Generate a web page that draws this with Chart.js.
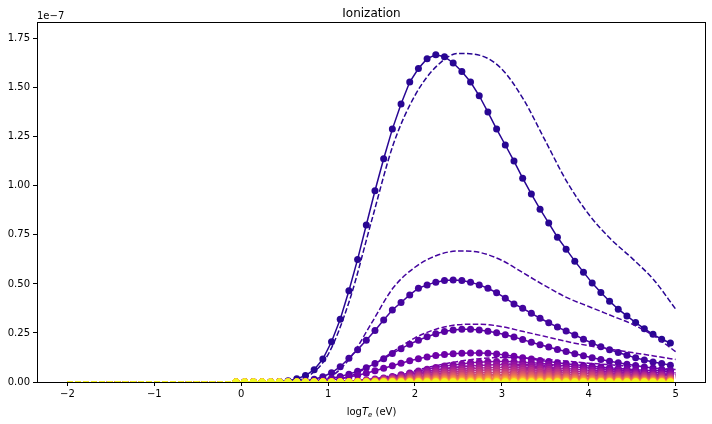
<!DOCTYPE html>
<html>
<head>
<meta charset="utf-8">
<script src="https://cdn.jsdelivr.net/npm/chart.js@4"></script>
<style>
  html, body { margin: 0; padding: 0; background: #fff; }
  canvas { display: block; }
</style>
</head>
<body>
<canvas id="chart" width="712" height="424"></canvas>
<script>
// Ionization rate coefficients, values in units of 1e-7

// log Te grid of the model (points with markers)
const XS = [-0.06, 0.04, 0.14, 0.24, 0.34, 0.44, 0.54, 0.64, 0.74, 0.84, 0.94,
  1.04, 1.14, 1.24, 1.34, 1.44, 1.54, 1.64, 1.74, 1.84, 1.94,
  2.04, 2.14, 2.24, 2.34, 2.44, 2.54, 2.64, 2.74, 2.84, 2.94,
  3.04, 3.14, 3.24, 3.34, 3.44, 3.54, 3.64, 3.74, 3.84, 3.94,
  4.04, 4.14, 4.24, 4.34, 4.44, 4.54, 4.64, 4.74, 4.84, 4.94];

// log Te grid of the reference curves (dashed)
const DX = [-2, -1, 0, 0.5, 0.75, 1, 1.25, 1.5, 1.75, 2, 2.25, 2.5, 2.75, 3,
  3.25, 3.5, 3.75, 4, 4.25, 4.5, 4.75, 5];

const X_TICKS = [-2, -1, 0, 1, 2, 3, 4, 5];
const Y_TICKS = [0, 0.25, 0.5, 0.75, 1, 1.25, 1.5, 1.75];

// solid lines with markers, one per charge state
const S0 = [0, 0, 0, 0, 0.001, 0.002, 0.006, 0.016, 0.033, 0.063, 0.117,
  0.205, 0.32, 0.465, 0.625, 0.8, 0.975, 1.138, 1.289, 1.417, 1.529,
  1.598, 1.648, 1.668, 1.658, 1.626, 1.583, 1.529, 1.459, 1.376, 1.289,
  1.208, 1.126, 1.039, 0.958, 0.881, 0.81, 0.738, 0.677, 0.616, 0.56,
  0.504, 0.456, 0.412, 0.371, 0.337, 0.303, 0.272, 0.243, 0.218, 0.199];
const S1 = [0, 0, 0, 0, 0, 0, 0.001, 0.003, 0.007, 0.014, 0.027,
  0.047, 0.078, 0.121, 0.165, 0.213, 0.263, 0.316, 0.367, 0.405, 0.444,
  0.478, 0.495, 0.509, 0.517, 0.52, 0.517, 0.509, 0.495, 0.478, 0.455,
  0.427, 0.398, 0.376, 0.35, 0.325, 0.302, 0.28, 0.26, 0.24, 0.218,
  0.198, 0.18, 0.165, 0.15, 0.136, 0.123, 0.112, 0.102, 0.094, 0.086];
const S2 = [0, 0, 0, 0, 0, 0, 0.001, 0.002, 0.004, 0.007, 0.012,
  0.019, 0.028, 0.04, 0.055, 0.073, 0.094, 0.118, 0.145, 0.17, 0.193,
  0.213, 0.231, 0.246, 0.257, 0.265, 0.269, 0.269, 0.265, 0.259, 0.251,
  0.241, 0.229, 0.216, 0.203, 0.19, 0.178, 0.166, 0.155, 0.144, 0.134,
  0.124, 0.115, 0.106, 0.098, 0.091, 0.084, 0.077, 0.071, 0.065, 0.06];
const S3 = [0, 0, 0, 0, 0, 0, 0, 0.001, 0.002, 0.004, 0.007,
  0.011, 0.017, 0.025, 0.034, 0.045, 0.057, 0.07, 0.083, 0.096, 0.108,
  0.119, 0.128, 0.135, 0.14, 0.144, 0.146, 0.148, 0.148, 0.146, 0.143,
  0.138, 0.131, 0.124, 0.117, 0.11, 0.104, 0.098, 0.093, 0.088, 0.084,
  0.08, 0.076, 0.072, 0.069, 0.066, 0.063, 0.06, 0.058, 0.056, 0.054];
const S4 = [0, 0, 0, 0, 0, 0, 0, 0, 0, 0, 0.001,
  0.001, 0.002, 0.004, 0.006, 0.01, 0.015, 0.021, 0.028, 0.037, 0.046,
  0.056, 0.065, 0.074, 0.081, 0.087, 0.092, 0.098, 0.101, 0.103, 0.105,
  0.105, 0.103, 0.101, 0.098, 0.095, 0.09, 0.086, 0.082, 0.078, 0.074,
  0.07, 0.066, 0.063, 0.06, 0.057, 0.054, 0.05, 0.048, 0.046, 0.044];
const S5 = [0, 0, 0, 0, 0, 0, 0, 0, 0, 0, 0.001,
  0.001, 0.002, 0.003, 0.005, 0.008, 0.012, 0.018, 0.024, 0.031, 0.039,
  0.047, 0.055, 0.062, 0.068, 0.073, 0.077, 0.082, 0.084, 0.087, 0.088,
  0.088, 0.087, 0.084, 0.082, 0.079, 0.076, 0.072, 0.069, 0.065, 0.062,
  0.059, 0.055, 0.053, 0.05, 0.048, 0.045, 0.042, 0.04, 0.039, 0.037];
const S6 = [0, 0, 0, 0, 0, 0, 0, 0, 0, 0, 0.001,
  0.001, 0.001, 0.003, 0.004, 0.007, 0.01, 0.015, 0.02, 0.026, 0.033,
  0.039, 0.046, 0.052, 0.057, 0.061, 0.065, 0.069, 0.071, 0.073, 0.074,
  0.074, 0.073, 0.071, 0.069, 0.067, 0.064, 0.061, 0.058, 0.055, 0.052,
  0.05, 0.047, 0.044, 0.042, 0.04, 0.038, 0.036, 0.034, 0.033, 0.031];
const S7 = [0, 0, 0, 0, 0, 0, 0, 0, 0, 0, 0,
  0.001, 0.001, 0.002, 0.004, 0.006, 0.009, 0.012, 0.017, 0.022, 0.027,
  0.033, 0.038, 0.043, 0.048, 0.051, 0.055, 0.058, 0.06, 0.061, 0.062,
  0.062, 0.061, 0.06, 0.058, 0.056, 0.053, 0.051, 0.048, 0.046, 0.043,
  0.042, 0.039, 0.037, 0.035, 0.033, 0.032, 0.03, 0.029, 0.027, 0.026];
const S8 = [0, 0, 0, 0, 0, 0, 0, 0, 0, 0, 0,
  0.001, 0.001, 0.002, 0.003, 0.005, 0.007, 0.01, 0.014, 0.018, 0.022,
  0.027, 0.031, 0.035, 0.039, 0.042, 0.044, 0.047, 0.048, 0.049, 0.05,
  0.05, 0.049, 0.048, 0.047, 0.045, 0.043, 0.041, 0.039, 0.037, 0.035,
  0.034, 0.032, 0.03, 0.029, 0.027, 0.026, 0.024, 0.023, 0.022, 0.021];
const S9 = [0, 0, 0, 0, 0, 0, 0, 0, 0, 0, 0,
  0, 0.001, 0.001, 0.002, 0.004, 0.006, 0.008, 0.011, 0.014, 0.018,
  0.021, 0.025, 0.028, 0.031, 0.033, 0.035, 0.037, 0.038, 0.039, 0.04,
  0.04, 0.039, 0.038, 0.037, 0.036, 0.034, 0.033, 0.031, 0.03, 0.028,
  0.027, 0.025, 0.024, 0.023, 0.022, 0.02, 0.019, 0.018, 0.018, 0.017];
const S10 = [0, 0, 0, 0, 0, 0, 0, 0, 0, 0, 0,
  0, 0, 0.001, 0.002, 0.003, 0.004, 0.006, 0.009, 0.011, 0.014,
  0.017, 0.02, 0.022, 0.025, 0.027, 0.028, 0.03, 0.031, 0.032, 0.032,
  0.032, 0.032, 0.031, 0.03, 0.029, 0.028, 0.026, 0.025, 0.024, 0.022,
  0.021, 0.02, 0.019, 0.018, 0.017, 0.016, 0.015, 0.015, 0.014, 0.013];
const S11 = [0, 0, 0, 0, 0, 0, 0, 0, 0, 0, 0,
  0, 0, 0.001, 0.002, 0.002, 0.004, 0.005, 0.007, 0.009, 0.011,
  0.013, 0.016, 0.018, 0.019, 0.021, 0.022, 0.023, 0.024, 0.025, 0.025,
  0.025, 0.025, 0.024, 0.023, 0.023, 0.022, 0.021, 0.02, 0.019, 0.018,
  0.017, 0.016, 0.015, 0.014, 0.014, 0.013, 0.012, 0.012, 0.011, 0.011];
const S12 = [0, 0, 0, 0, 0, 0, 0, 0, 0, 0, 0,
  0, 0, 0, 0.001, 0.002, 0.003, 0.004, 0.005, 0.007, 0.008,
  0.01, 0.012, 0.013, 0.015, 0.016, 0.017, 0.018, 0.018, 0.019, 0.019,
  0.019, 0.019, 0.018, 0.018, 0.017, 0.016, 0.016, 0.015, 0.014, 0.013,
  0.013, 0.012, 0.011, 0.011, 0.01, 0.01, 0.009, 0.009, 0.008, 0.008];
const S13 = [0, 0, 0, 0, 0, 0, 0, 0, 0, 0, 0,
  0, 0, 0, 0, 0.001, 0.002, 0.003, 0.004, 0.005, 0.006,
  0.007, 0.009, 0.01, 0.011, 0.012, 0.012, 0.013, 0.013, 0.014, 0.014,
  0.014, 0.014, 0.013, 0.013, 0.013, 0.012, 0.011, 0.011, 0.01, 0.01,
  0.009, 0.009, 0.008, 0.008, 0.008, 0.007, 0.007, 0.006, 0.006, 0.006];
const S14 = [0, 0, 0, 0, 0, 0, 0, 0, 0, 0, 0,
  0, 0, 0, 0, 0, 0.001, 0.002, 0.003, 0.004, 0.004,
  0.005, 0.006, 0.007, 0.008, 0.008, 0.009, 0.009, 0.01, 0.01, 0.01,
  0.01, 0.01, 0.01, 0.009, 0.009, 0.009, 0.008, 0.008, 0.007, 0.007,
  0.007, 0.006, 0.006, 0.006, 0.005, 0.005, 0.005, 0.005, 0.004, 0.004];
const S15 = [0, 0, 0, 0, 0, 0, 0, 0, 0, 0, 0,
  0, 0, 0, 0, 0, 0, 0.001, 0.002, 0.002, 0.003,
  0.003, 0.004, 0.004, 0.005, 0.005, 0.005, 0.006, 0.006, 0.006, 0.006,
  0.006, 0.006, 0.006, 0.006, 0.005, 0.005, 0.005, 0.005, 0.004, 0.004,
  0.004, 0.004, 0.004, 0.003, 0.003, 0.003, 0.003, 0.003, 0.003, 0.003];
const S16 = [0, 0, 0, 0, 0, 0, 0, 0, 0, 0, 0,
  0, 0, 0, 0, 0, 0, 0, 0.001, 0.001, 0.001,
  0.002, 0.002, 0.002, 0.002, 0.002, 0.003, 0.003, 0.003, 0.003, 0.003,
  0.003, 0.003, 0.003, 0.003, 0.003, 0.003, 0.002, 0.002, 0.002, 0.002,
  0.002, 0.002, 0.002, 0.002, 0.001, 0.001, 0.001, 0.001, 0.001, 0.001];
const S17 = [0, 0, 0, 0, 0, 0, 0, 0, 0, 0, 0,
  0, 0, 0, 0, 0, 0, 0, 0, 0, 0,
  0, 0, 0, 0.001, 0.001, 0.001, 0.001, 0.001, 0.001, 0.001,
  0.001, 0.001, 0.001, 0.001, 0.001, 0.001, 0.001, 0.001, 0.001, 0.001,
  0.001, 0.001, 0.001, 0.001, 0.001, 0.001, 0.001, 0, 0, 0];
const S18 = [0, 0, 0, 0, 0, 0, 0, 0, 0, 0, 0,
  0, 0, 0, 0, 0, 0, 0, 0, 0, 0,
  0, 0, 0, 0, 0, 0, 0, 0, 0, 0,
  0, 0, 0, 0, 0, 0, 0, 0, 0, 0,
  0, 0, 0, 0, 0, 0, 0, 0, 0, 0];

// dashed reference curves, same charge states, on the DX grid
const D0 = [0, 0, 0, 0.003, 0.025, 0.14, 0.42, 0.82, 1.21, 1.46, 1.61, 1.675, 1.665, 1.595, 1.44, 1.23, 1.02, 0.855, 0.73, 0.63, 0.52, 0.372];
const D1 = [0, 0, 0, 0, 0.002, 0.02, 0.12, 0.3, 0.48, 0.585, 0.645, 0.668, 0.66, 0.62, 0.555, 0.49, 0.43, 0.385, 0.34, 0.295, 0.235, 0.155];
const D2 = [0, 0, 0, 0, 0, 0.005, 0.03, 0.085, 0.155, 0.225, 0.27, 0.292, 0.295, 0.282, 0.257, 0.232, 0.206, 0.185, 0.167, 0.15, 0.133, 0.115];
const D3 = [0, 0, 0, 0, 0, 0.001, 0.005, 0.015, 0.034, 0.059, 0.084, 0.105, 0.119, 0.125, 0.123, 0.115, 0.106, 0.096, 0.088, 0.079, 0.071, 0.064];
const D4 = [0, 0, 0, 0, 0, 0.001, 0.004, 0.011, 0.025, 0.043, 0.062, 0.077, 0.087, 0.092, 0.09, 0.085, 0.078, 0.071, 0.064, 0.058, 0.052, 0.047];
const D5 = [0, 0, 0, 0, 0, 0.001, 0.003, 0.009, 0.021, 0.036, 0.052, 0.065, 0.073, 0.077, 0.075, 0.071, 0.065, 0.059, 0.054, 0.049, 0.044, 0.039];
const D6 = [0, 0, 0, 0, 0, 0.001, 0.003, 0.008, 0.017, 0.03, 0.043, 0.054, 0.061, 0.064, 0.063, 0.059, 0.054, 0.049, 0.045, 0.04, 0.036, 0.033];
const D7 = [0, 0, 0, 0, 0, 0.001, 0.002, 0.006, 0.014, 0.025, 0.036, 0.045, 0.05, 0.053, 0.052, 0.049, 0.045, 0.041, 0.037, 0.033, 0.03, 0.027];
const D8 = [0, 0, 0, 0, 0, 0, 0.002, 0.005, 0.012, 0.02, 0.029, 0.036, 0.041, 0.043, 0.042, 0.04, 0.037, 0.033, 0.03, 0.027, 0.025, 0.022];
const D9 = [0, 0, 0, 0, 0, 0, 0.001, 0.004, 0.009, 0.016, 0.023, 0.029, 0.033, 0.035, 0.034, 0.032, 0.03, 0.027, 0.025, 0.022, 0.02, 0.018];
const D10 = [0, 0, 0, 0, 0, 0, 0.001, 0.003, 0.008, 0.013, 0.019, 0.024, 0.027, 0.028, 0.027, 0.026, 0.024, 0.022, 0.02, 0.018, 0.016, 0.014];
const D11 = [0, 0, 0, 0, 0, 0, 0.001, 0.003, 0.006, 0.01, 0.015, 0.018, 0.021, 0.022, 0.022, 0.02, 0.019, 0.017, 0.015, 0.014, 0.013, 0.011];
const D12 = [0, 0, 0, 0, 0, 0, 0.001, 0.002, 0.004, 0.008, 0.011, 0.013, 0.015, 0.016, 0.016, 0.015, 0.014, 0.012, 0.011, 0.01, 0.009, 0.008];
const D13 = [0, 0, 0, 0, 0, 0, 0, 0.001, 0.003, 0.006, 0.008, 0.01, 0.011, 0.012, 0.012, 0.011, 0.01, 0.009, 0.008, 0.008, 0.007, 0.006];
const D14 = [0, 0, 0, 0, 0, 0, 0, 0.001, 0.002, 0.004, 0.005, 0.007, 0.008, 0.008, 0.008, 0.007, 0.007, 0.006, 0.006, 0.005, 0.005, 0.004];
const D15 = [0, 0, 0, 0, 0, 0, 0, 0.001, 0.001, 0.002, 0.003, 0.004, 0.005, 0.005, 0.005, 0.005, 0.004, 0.004, 0.004, 0.003, 0.003, 0.003];
const D16 = [0, 0, 0, 0, 0, 0, 0, 0, 0.001, 0.001, 0.001, 0.002, 0.002, 0.002, 0.002, 0.002, 0.002, 0.002, 0.001, 0.001, 0.001, 0.001];
const D17 = [0, 0, 0, 0, 0, 0, 0, 0, 0, 0, 0.001, 0.001, 0.001, 0.001, 0.001, 0.001, 0.001, 0.001, 0.001, 0.001, 0.001, 0];
const D18 = [0, 0, 0, 0, 0, 0, 0, 0, 0, 0, 0, 0, 0, 0, 0, 0, 0, 0, 0, 0, 0, 0];

const SOLID = [S0, S1, S2, S3, S4, S5, S6, S7, S8, S9, S10, S11, S12, S13, S14, S15, S16, S17, S18];
const DASHED = [D0, D1, D2, D3, D4, D5, D6, D7, D8, D9, D10, D11, D12, D13, D14, D15, D16, D17, D18];

// plasma colormap anchors
const PLASMA = ["#0d0887", "#41049d", "#6a00a8", "#8f0da4", "#b12a90", "#cc4778",
  "#e16462", "#f2844b", "#fca636", "#fcce25", "#f0f921"];

function plasma(t) {
  const pos = Math.min(Math.max(t, 0), 1) * (PLASMA.length - 1);
  const i = Math.min(Math.floor(pos), PLASMA.length - 2);
  const f = pos - i;
  const a = PLASMA[i], b = PLASMA[i + 1];
  const c = [1, 3, 5].map((k) => {
    const va = parseInt(a.substr(k, 2), 16);
    const vb = parseInt(b.substr(k, 2), 16);
    return Math.round(va + (vb - va) * f);
  });
  return `rgb(${c[0]}, ${c[1]}, ${c[2]})`;
}

const FONT = '"DejaVu Sans", "Liberation Sans", sans-serif';

function minusSign(v) {
  return v < 0 ? "\u2212" + Math.abs(v) : String(v);
}

// build datasets
const datasets = [];
SOLID.forEach((vals, i) => {
  const color = plasma((i + 1) / SOLID.length);
  datasets.push({
    data: XS.map((x, k) => ({ x: x, y: vals[k] })),
    borderColor: color,
    backgroundColor: color,
    borderWidth: 1.5,
    pointRadius: 3.5,
    pointBorderWidth: 0,
    pointBackgroundColor: color,
    tension: 0,
    clip: 0,
    order: -2 * i,
  });
  datasets.push({
    data: DX.map((x, k) => ({ x: x, y: DASHED[i][k] })),
    borderColor: color,
    borderWidth: 1.5,
    borderDash: [5.5, 2.4],
    pointRadius: 0,
    cubicInterpolationMode: "monotone",
    clip: 0,
    order: -2 * i - 1,
  });
});

// frame, title, offset text and x label drawn like matplotlib
const decorations = {
  id: "decorations",
  afterDraw(chart) {
    const ctx = chart.ctx;
    const a = chart.chartArea;
    ctx.save();
    ctx.strokeStyle = "#000";
    ctx.lineWidth = 1;
    ctx.strokeRect(a.left + 0.5, a.top + 0.5, a.right - a.left - 1, a.bottom - a.top);

    ctx.fillStyle = "#000";
    ctx.textBaseline = "alphabetic";
    ctx.font = "12px " + FONT;
    ctx.textAlign = "center";
    ctx.fillText("Ionization", (a.left + a.right) / 2, 17);

    ctx.font = "10px " + FONT;
    ctx.textAlign = "left";
    ctx.fillText("1e\u22127", a.left, 19);

    // x label: log T_e (eV)
    const parts = [
      { t: "log", f: "10px " + FONT, dy: 0 },
      { t: "T", f: "oblique 10px " + FONT, dy: 0 },
      { t: "e", f: "oblique 7px " + FONT, dy: 2 },
      { t: " (eV)", f: "10px " + FONT, dy: 0 },
    ];
    let total = 0;
    parts.forEach((p) => {
      ctx.font = p.f;
      p.w = ctx.measureText(p.t).width;
      total += p.w;
    });
    let x = (a.left + a.right) / 2 - total / 2;
    parts.forEach((p) => {
      ctx.font = p.f;
      ctx.fillText(p.t, x, 415 + p.dy);
      x += p.w;
    });
    ctx.restore();
  },
};

new Chart(document.getElementById("chart"), {
  type: "line",
  data: { datasets: datasets },
  options: {
    responsive: false,
    animation: false,
    devicePixelRatio: 1,
    layout: { padding: { left: 0, top: 22, right: 6, bottom: 0 } },
    plugins: {
      legend: { display: false },
      tooltip: { enabled: false },
      title: { display: false },
    },
    scales: {
      x: {
        type: "linear",
        min: -2.35,
        max: 5.35,
        afterBuildTicks: (scale) => {
          scale.ticks = X_TICKS.map((v) => ({ value: v }));
        },
        afterFit: (scale) => {
          scale.height = 42;
        },
        grid: { drawOnChartArea: false, drawTicks: true, tickLength: 4, color: "#000" },
        border: { display: false },
        ticks: {
          color: "#000",
          font: { family: FONT, size: 10 },
          padding: 2,
          maxRotation: 0,
          callback: (v) => minusSign(v),
        },
      },
      y: {
        type: "linear",
        min: 0,
        max: 1.835,
        afterBuildTicks: (scale) => {
          scale.ticks = Y_TICKS.map((v) => ({ value: v }));
        },
        afterFit: (scale) => {
          scale.width = 37;
        },
        grid: { drawOnChartArea: false, drawTicks: true, tickLength: 4, color: "#000" },
        border: { display: false },
        ticks: {
          color: "#000",
          font: { family: FONT, size: 10 },
          padding: 3,
          callback: (v) => v.toFixed(2),
        },
      },
    },
  },
  plugins: [decorations],
});
</script>
</body>
</html>
